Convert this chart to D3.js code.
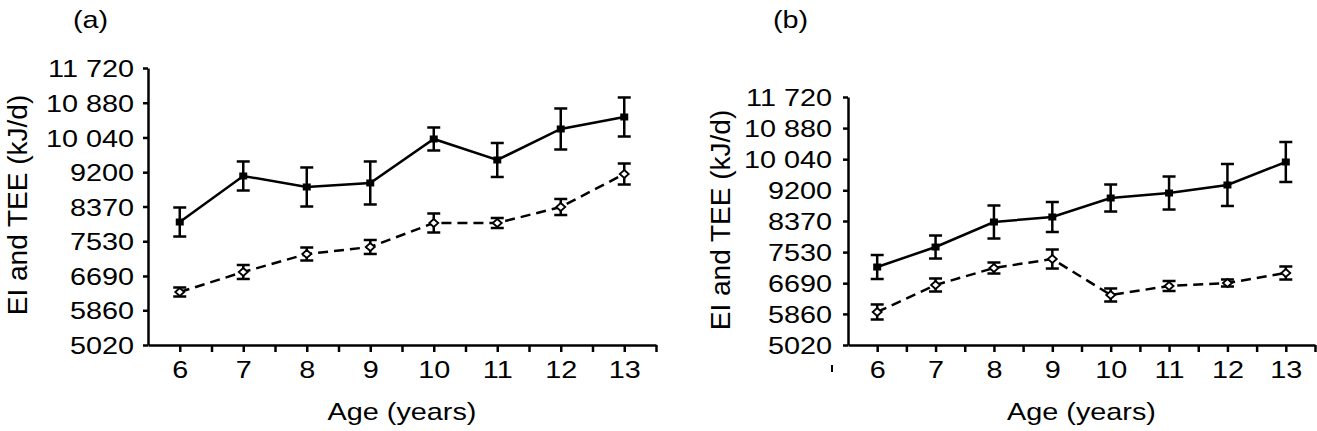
<!DOCTYPE html>
<html><head><meta charset="utf-8">
<script src="https://cdn.jsdelivr.net/npm/d3@7"></script>
<style>
body{margin:0;background:#fff}
svg{display:block}
text{font-family:"Liberation Sans",Arial,Helvetica,sans-serif;fill:#000}
</style>
</head><body>
<svg id="c" width="1317" height="431"></svg>
<script>
// ---- data ----
const ages = [6, 7, 8, 9, 10, 11, 12, 13];
const aSolid     = [7995, 9108, 8842, 8939, 10003, 9495, 10245, 10535];
const aSolidErr  = [351, 351, 472, 520, 278, 411, 496, 472];
const aDashed    = [6302, 6786, 7221, 7391, 7971, 7971, 8358, 9156];
const aDashedErr = [109, 169, 157, 169, 230, 121, 194, 254];
const bSolid     = [7127, 7667, 8343, 8478, 8991, 9126, 9343, 9964];
const bSolidErr  = [324, 311, 446, 405, 365, 446, 567, 540];
const bDashed    = [5912, 6641, 7100, 7343, 6371, 6614, 6695, 6965];
const bDashedErr = [203, 176, 149, 257, 176, 135, 95, 176];
const yTickValues = [5020, 5860, 6690, 7530, 8370, 9200, 10040, 10880, 11720];
const yTickLabels = ["5020", "5860", "6690", "7530", "8370", "9200", "10 040", "10 880", "11 720"];
const xTickLabels = ["6", "7", "8", "9", "10", "11", "12", "13"];
const panelLabels = ["(a)", "(b)"];
const yTitle = "EI and TEE (kJ/d)";
const xTitle = "Age (years)";

const svg = d3.select("#c");
const SX = 1.2; // horizontal glyph stretch seen in the reference

const panels = [
  {label: panelLabels[0], solid: aSolid, solidErr: aSolidErr, dashed: aDashed, dashedErr: aDashedErr,
   x0: 148, x1: 656, y0: 345, y1: 68, labelX: 73, labelY: 28, titleX: 17.5, titleY: 205, tickGap: 14},
  {label: panelLabels[1], solid: bSolid, solidErr: bSolidErr, dashed: bDashed, dashedErr: bDashedErr,
   x0: 848, x1: 1315, y0: 345, y1: 97, labelX: 773, labelY: 28, titleX: 720, titleY: 220, tickGap: 16}
];

panels.forEach((p, pi) => {
  const x = d3.scaleLinear().domain([5.5, 13.5]).range([p.x0, p.x1]);
  const y = d3.scaleLinear().domain([5020, 11720]).range([p.y0, p.y1]);
  const g = svg.append("g");

  // y axis
  const ya = g.append("g").attr("transform", `translate(${p.x0},0)`)
    .call(d3.axisLeft(y).tickValues(yTickValues).tickSize(5).tickSizeOuter(0)
      .tickFormat((d, i) => yTickLabels[i]));
  ya.select(".domain").attr("stroke", "#000").attr("stroke-width", 2.5);
  ya.selectAll(".tick line").attr("stroke", "#000").attr("stroke-width", 2.5);
  ya.selectAll(".tick text").attr("x", 0).attr("dy", "0.36em")
    .attr("transform", `translate(${-p.tickGap},0) scale(${SX},1)`)
    .style("font-size", "24px").attr("fill", "#000");

  // x axis
  const xa = g.append("g").attr("transform", `translate(0,${p.y0})`)
    .call(d3.axisBottom(x).tickValues(d3.range(6, 13.51, 0.5)).tickSize(7).tickSizeOuter(0)
      .tickFormat(d => Number.isInteger(d) ? xTickLabels[d - 6] : ""));
  xa.select(".domain").attr("stroke", "#000").attr("stroke-width", 2.5);
  xa.selectAll(".tick line").attr("stroke", "#000").attr("stroke-width", 2.5);
  xa.selectAll(".tick text").attr("y", 0).attr("dy", 0)
    .attr("transform", `translate(0,33) scale(${SX},1)`)
    .style("font-size", "24px").attr("fill", "#000");

  // titles
  g.append("text").attr("transform", `translate(${(p.x0 + p.x1) / 2},420) scale(${SX},1)`)
    .attr("text-anchor", "middle").style("font-size", "24px").text(xTitle);
  g.append("text").attr("transform", `translate(${p.titleX},${p.titleY}) rotate(-90)`)
    .attr("text-anchor", "middle").attr("dominant-baseline", "central")
    .style("font-size", "28px").text(yTitle);
  g.append("text").attr("transform", `translate(${p.labelX},${p.labelY}) scale(${SX},1)`)
    .style("font-size", "24px").text(p.label);

  // series
  const line = d3.line().x((d, i) => x(ages[i])).y(d => y(d));
  const drawSeries = (vals, errs, dashed) => {
    g.append("path").datum(vals).attr("d", line).attr("fill", "none")
      .attr("stroke", "#000").attr("stroke-width", 2.5)
      .attr("stroke-dasharray", dashed ? "10,6" : null);
    const eb = g.append("g").selectAll("g").data(vals).join("g");
    eb.append("line").attr("x1", (d, i) => x(ages[i])).attr("x2", (d, i) => x(ages[i]))
      .attr("y1", (d, i) => y(d - errs[i])).attr("y2", (d, i) => y(d + errs[i]))
      .attr("stroke", "#000").attr("stroke-width", 2.5);
    [-1, 1].forEach(s => {
      eb.append("line").attr("x1", (d, i) => x(ages[i]) - 6.5).attr("x2", (d, i) => x(ages[i]) + 6.5)
        .attr("y1", (d, i) => y(d + s * errs[i])).attr("y2", (d, i) => y(d + s * errs[i]))
        .attr("stroke", "#000").attr("stroke-width", 2.5);
    });
    if (dashed) {
      eb.append("path")
        .attr("d", (d, i) => { const cx = x(ages[i]), cy = y(d);
          return `M${cx},${cy - 4}L${cx + 4.5},${cy}L${cx},${cy + 4}L${cx - 4.5},${cy}Z`; })
        .attr("fill", "#fff").attr("stroke", "#000").attr("stroke-width", 1.8);
    } else {
      eb.append("rect").attr("x", (d, i) => x(ages[i]) - 4).attr("y", d => y(d) - 3.5)
        .attr("width", 8).attr("height", 7).attr("fill", "#000");
    }
  };
  drawSeries(p.solid, p.solidErr, false);
  drawSeries(p.dashed, p.dashedErr, true);

  if (pi === 1) {
    g.append("line").attr("x1", 832).attr("x2", 832).attr("y1", 365).attr("y2", 372)
      .attr("stroke", "#000").attr("stroke-width", 2);
  }
});
</script>
</body></html>
